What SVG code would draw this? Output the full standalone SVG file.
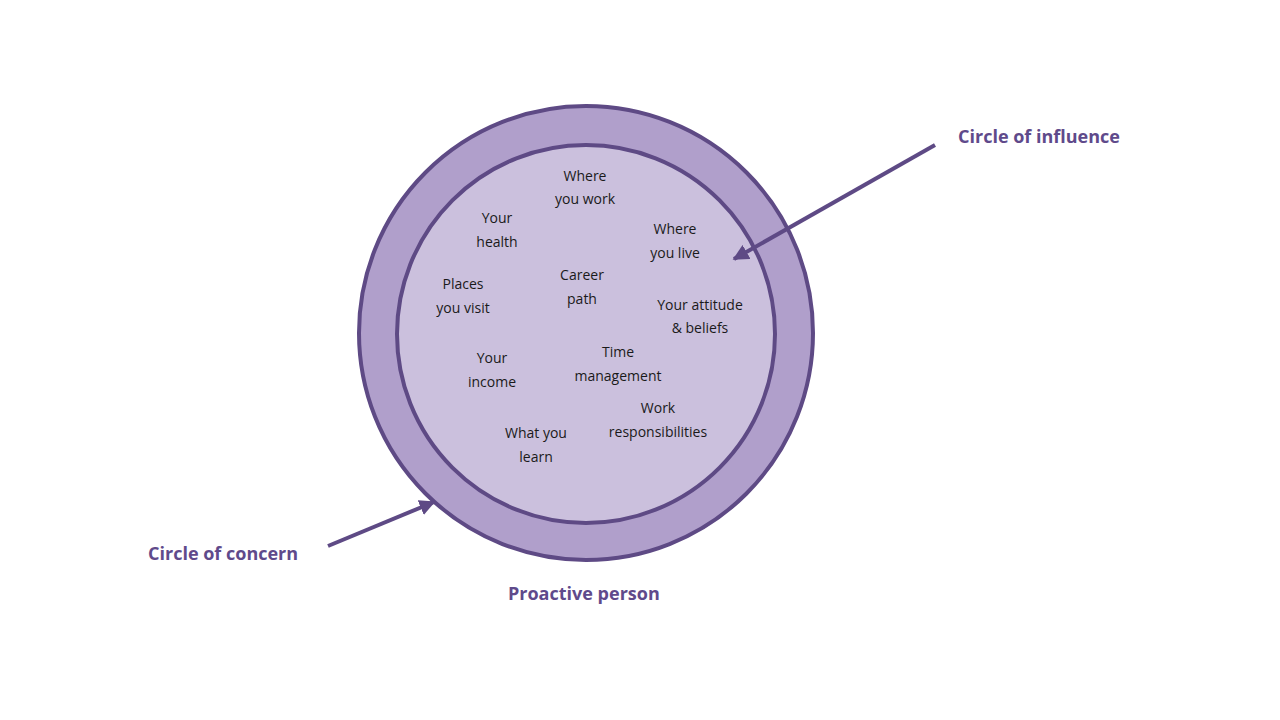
<svg xmlns="http://www.w3.org/2000/svg" width="1280" height="720" viewBox="0 0 1280 720">
<style>
.t{font-family:"Open Sans","Liberation Sans",sans-serif;font-size:14px;fill:#1a1a1a;text-anchor:middle}
.l{font-family:"Open Sans","Liberation Sans",sans-serif;font-size:18px;font-weight:bold;fill:#5f4a8b}
.c{stroke:#5e4a85;stroke-width:4}
</style>
<defs><marker id="a" viewBox="0 0 10 10" refX="9" refY="5" markerWidth="4" markerHeight="4" orient="auto"><path d="M0,0L10,5L0,10z" fill="#5e4a85"/></marker></defs>
<rect width="1280" height="720" fill="#fff"/>
<g id="concern"><circle class="c" cx="586" cy="333" r="227" fill="#b09fcb"/></g>
<g id="influence"><circle class="c" cx="586" cy="334" r="189" fill="#cbc0dd"/>
<text class="t"><tspan x="585" y="181">Where</tspan><tspan x="585" y="204">you work</tspan></text>
<text class="t"><tspan x="497" y="223">Your</tspan><tspan x="497" y="247">health</tspan></text>
<text class="t"><tspan x="675" y="234">Where</tspan><tspan x="675" y="258">you live</tspan></text>
<text class="t"><tspan x="582" y="280">Career</tspan><tspan x="582" y="304">path</tspan></text>
<text class="t"><tspan x="463" y="289">Places</tspan><tspan x="463" y="313">you visit</tspan></text>
<text class="t"><tspan x="700" y="310">Your attitude</tspan><tspan x="700" y="333">&amp; beliefs</tspan></text>
<text class="t"><tspan x="618" y="357">Time</tspan><tspan x="618" y="381">management</tspan></text>
<text class="t"><tspan x="492" y="363">Your</tspan><tspan x="492" y="387">income</tspan></text>
<text class="t"><tspan x="658" y="413">Work</tspan><tspan x="658" y="437">responsibilities</tspan></text>
<text class="t"><tspan x="536" y="438">What you</tspan><tspan x="536" y="462">learn</tspan></text>
</g>
<g id="connectors">
<line x1="935" y1="145" x2="734" y2="259" stroke="#5e4a85" stroke-width="4" marker-end="url(#a)"/>
<line x1="328" y1="546" x2="434" y2="502" stroke="#5e4a85" stroke-width="4" marker-end="url(#a)"/>
</g>
<g id="labels">
<text class="l" x="958" y="143">Circle of influence</text>
<text class="l" x="148" y="560">Circle of concern</text>
<text class="l" x="508" y="600">Proactive person</text>
</g>
</svg>
